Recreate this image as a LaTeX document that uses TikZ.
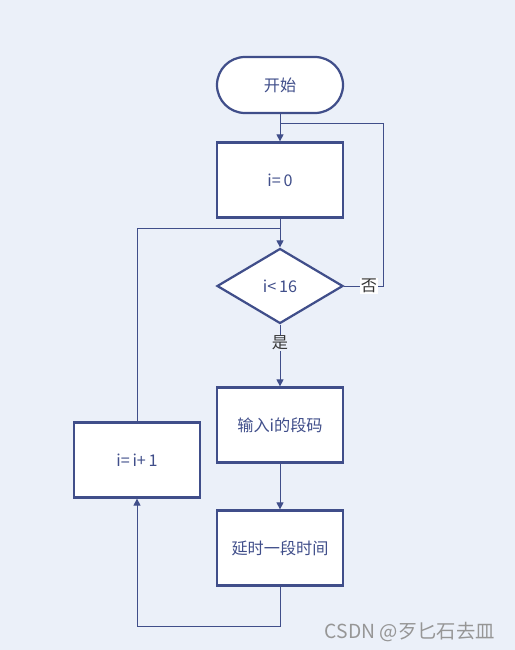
\documentclass[tikz,border=0pt]{standalone}
\usepackage{fontspec}
\setmainfont{Noto Sans CJK SC}
\usepackage{tikz}
\usetikzlibrary{positioning, arrows.meta, shapes, calc}
\usepackage{xcolor}
\definecolor{flowblue}{RGB}{64, 78, 138}
\definecolor{pagebg}{RGB}{235, 240, 249}
\definecolor{markgray}{RGB}{150, 150, 150}

\begin{document}
\begin{tikzpicture}[
    x=0.03cm, y=-0.03cm,
    font=\fontsize{13.8}{15}\selectfont,
    proc/.style={rectangle, draw=flowblue, fill=white, line width=1.9pt, minimum width=3.78cm, minimum height=2.25cm, align=center, text=flowblue},
    term/.style={rectangle, rounded corners=0.84cm, draw=flowblue, fill=white, line width=1.9pt, minimum width=3.78cm, minimum height=1.68cm, text=flowblue},
    decision/.style={diamond, draw=flowblue, fill=white, line width=1.9pt, minimum width=3.78cm, minimum height=2.25cm, inner sep=0pt, text=flowblue},
    line/.style={draw=flowblue, line width=0.8pt},
    arrow/.style={line, -{Triangle[width=6pt, length=6pt]}},
    answer/.style={inner sep=1pt, text=black!80}
]
    % page and margins
    \fill[pagebg] (0,0) rectangle (515,650);

    \node[term] (start) at (280,85) {开始};
    \node[proc] (init) at (280,180) {i=\,0};
    \node[decision] (cond) at (280,286) {i<\,16};
    \node[proc] (show) at (280,425) {输入i的段码};
    \node[proc] (delay) at (280,548) {延时一段时间};
    \node[proc] (inc) at (137,460) {i=\,i+\,1};

    \coordinate (join1) at (280,123);
    \coordinate (join2) at (280,228);

    \draw[arrow] (start) -- (init);
    \draw[arrow] (init) -- (cond);
    \draw[arrow] (cond) -- node[answer, fill=pagebg, pos=0.3] {是} (show);
    \draw[arrow] (show) -- (delay);
    \draw[arrow] (delay.south) -- ++(0,40) -| (inc.south);
    \draw[line] (inc.north) |- (join2);
    \draw[line] (cond.east) -- node[answer, fill=white, pos=0.64] {否} ++(39,0) |- (join1);

    % watermark
    \node[anchor=east, text=markgray, font=\fontsize{16.5}{18}\selectfont] (mark) at (499,632) {CSDN @歹匕石去皿};
\end{tikzpicture}
\end{document}
